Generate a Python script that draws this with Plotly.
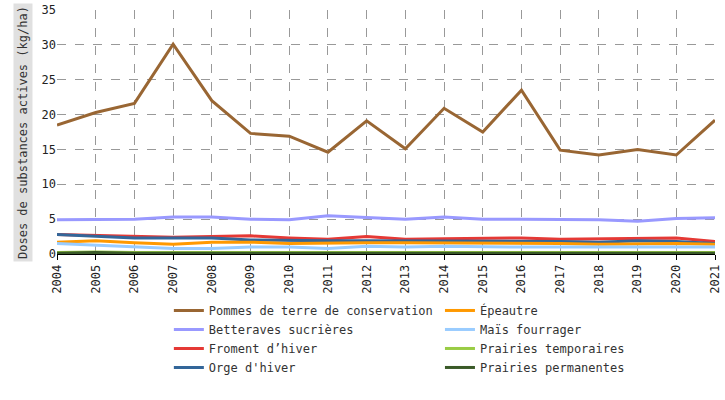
import plotly.graph_objects as go

annees = list(range(2004, 2022))

pommes_de_terre = [18.5, 20.3, 21.6, 30.1, 22.0, 17.3, 16.9, 14.6, 19.1, 15.1, 20.9, 17.5, 23.5, 14.9, 14.2, 15.0, 14.2, 19.2]
betteraves = [4.9, 4.9, 5.0, 5.3, 5.3, 5.0, 4.9, 5.5, 5.3, 5.0, 5.3, 5.0, 5.0, 5.0, 4.9, 4.7, 5.1, 5.2]
froment = [2.8, 2.7, 2.6, 2.4, 2.5, 2.6, 2.3, 2.1, 2.5, 2.1, 2.2, 2.2, 2.3, 2.1, 2.2, 2.3, 2.3, 1.8]
orge = [2.8, 2.5, 2.3, 2.3, 2.3, 2.0, 1.9, 1.9, 1.9, 1.9, 1.9, 1.9, 1.8, 1.8, 1.7, 1.9, 1.8, 1.5]
epeautre = [1.7, 1.9, 1.6, 1.4, 1.7, 1.7, 1.5, 1.6, 1.6, 1.6, 1.6, 1.6, 1.5, 1.5, 1.4, 1.5, 1.5, 1.4]
mais = [1.5, 1.3, 1.1, 0.8, 0.8, 1.0, 1.0, 0.8, 1.1, 1.0, 1.1, 1.0, 1.0, 1.0, 1.0, 1.1, 1.1, 1.0]
prairies_temp = [0.2, 0.3, 0.2, 0.2, 0.2, 0.2, 0.2, 0.2, 0.2, 0.2, 0.2, 0.2, 0.2, 0.2, 0.2, 0.2, 0.2, 0.2]
prairies_perm = [0.1, 0.2, 0.1, 0.1, 0.1, 0.1, 0.1, 0.1, 0.1, 0.1, 0.1, 0.1, 0.1, 0.1, 0.1, 0.1, 0.1, 0.1]

series = [
    ("Pommes de terre de conservation", pommes_de_terre, "#996633", "legend"),
    ("Betteraves sucrières", betteraves, "#9999ff", "legend"),
    ("Froment d’hiver", froment, "#e53935", "legend"),
    ("Orge d'hiver", orge, "#336699", "legend"),
    ("Épeautre", epeautre, "#ff9900", "legend2"),
    ("Maïs fourrager", mais, "#99ccff", "legend2"),
    ("Prairies temporaires", prairies_temp, "#99cc44", "legend2"),
    ("Prairies permanentes", prairies_perm, "#3a5a28", "legend2"),
]

fig = go.Figure()
for nom, vals, couleur, leg in series:
    fig.add_trace(go.Scatter(x=annees, y=vals, name=nom, mode="lines",
                             line=dict(color=couleur, width=3), legend=leg))

leg_style = dict(orientation="v", xanchor="left", y=-0.172, yanchor="top",
                 font=dict(size=12, color="#333"), tracegroupgap=0,
                 bgcolor="rgba(0,0,0,0)")
fig.update_layout(
    width=725, height=400,
    margin=dict(l=57, r=10, t=10, b=146, autoexpand=False),
    plot_bgcolor="white", paper_bgcolor="white",
    font=dict(family="DejaVu Sans Mono", size=12, color="#222"),
    showlegend=True,
    legend=dict(x=0.170, **leg_style),
    legend2=dict(x=0.582, **leg_style),
    annotations=[dict(text="Doses de substances actives (kg/ha)", textangle=-90,
                      xref="paper", yref="paper", x=-0.0517, y=0.5, showarrow=False,
                      bgcolor="#e0e0e0", borderpad=2, font=dict(size=12, color="#333"),
                      xanchor="center", yanchor="middle")],
)
fig.update_xaxes(range=[2004, 2021], dtick=1, tickangle=-90, showgrid=True,
                 gridcolor="#999", griddash="dash", gridwidth=1,
                 showline=True, linecolor="black", linewidth=1,
                 ticks="outside", ticklen=5, tickcolor="black", zeroline=False,
                 ticklabeloverflow="allow")
fig.update_yaxes(range=[0, 35], dtick=5, showgrid=True, gridcolor="#999",
                 griddash="dash", gridwidth=1, zeroline=False, showline=False,
                 ticklabeloverflow="allow")

# pas de marge de page autour du graphique, pas de barre d'outils
fig.write_html("out.html", config={"displayModeBar": False},
               post_script="document.body.style.margin='0';")
